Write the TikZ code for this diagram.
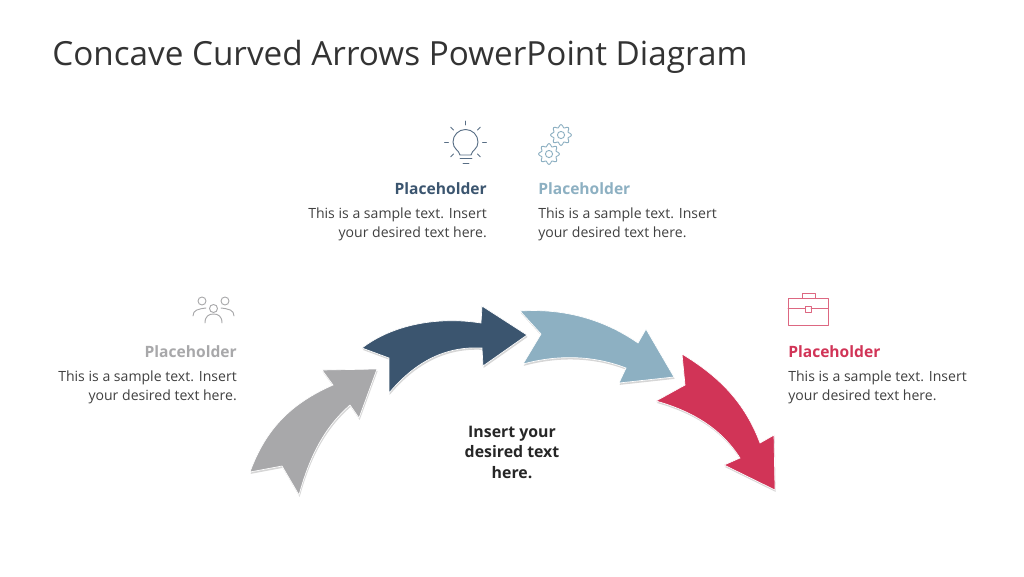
\documentclass[tikz,border=0pt]{standalone}
\usepackage{fontspec}
\setmainfont{Open Sans}
\usepackage{xcolor}
\usepackage{tikz}
\usetikzlibrary{shadows}
\definecolor{stonegray}{HTML}{A8A8AA}
\definecolor{navyblue}{HTML}{3B556F}
\definecolor{skyblue}{HTML}{8DB0C2}
\definecolor{rosered}{HTML}{D13457}
\definecolor{bodygray}{HTML}{404040}
\tikzset{
  curvedarrow/.style={draw=white,line width=0.5pt,line join=miter,fill=#1,
    drop shadow={shadow xshift=0.5pt,shadow yshift=-1.4pt,opacity=0.16,fill=black}},
  headline/.style={font=\fontsize{11.7pt}{14pt}\selectfont\bfseries,inner sep=0pt},
  bodytext/.style={font=\fontsize{10.55pt}{14.25pt}\selectfont,text=bodygray,inner sep=0pt},
  iconline/.style={line width=0.7pt,line cap=round,line join=round}
}
\newcommand{\gearicon}[2]{
  \draw[iconline,draw=skyblue] plot[smooth,domain=0:360,samples=73] ({#1+(9+1.4*cos(8*\x))*cos(\x)},{#2+(9+1.4*cos(8*\x))*sin(\x)}) -- cycle;
  \draw[iconline,draw=skyblue] (#1,#2) circle (3.6);
}
\begin{document}
\begin{tikzpicture}[x=0.75pt,y=0.75pt,yscale=-1,xscale=1]
  \useasboundingbox (0,0) rectangle (1024,576);

  %Title
  \node[anchor=west,inner sep=0pt,text=black!80,font=\fontsize{24.95pt}{30pt}\selectfont] (title) at (52,57) {Concave Curved Arrows PowerPoint Diagram};

  %Gray arrow
  \path[curvedarrow=stonegray] (250,472) .. controls (266,428) and (292,403) .. (333,385) -- (322,370) -- (377,369) -- (359,418) -- (350,405) .. controls (325,427) and (310,455) .. (299,495) -- (282,466) -- cycle;
  %Navy arrow
  \path[curvedarrow=navyblue] (362,348) .. controls (392,325) and (437,316) .. (481,323) -- (482,306) -- (527,335) -- (483,366) -- (482,348) .. controls (445,346) and (415,362) .. (389,393) -- (389,358) -- cycle;
  %Light blue arrow
  \path[curvedarrow=skyblue] (520,311) .. controls (565,308) and (605,320) .. (638,343) -- (646,329) -- (674,377) -- (619,383) -- (626,368) .. controls (595,356) and (560,354) .. (523,364) -- (541,334) -- cycle;
  %Red arrow
  \path[curvedarrow=rosered] (682,354) .. controls (720,377) and (745,403) .. (760,443) -- (774,435) -- (775,490) -- (724,465) -- (740,458) .. controls (722,430) and (695,412) .. (656,401) -- (685,385) -- cycle;

  %Left block
  \node[headline,anchor=east,text=stonegray] (headgray) at (237,352) {Placeholder};
  \node[bodytext,anchor=north east,align=right] (textgray) at (237,371) {This is a sample text. Insert\\your desired text here.};
  %Top left block
  \node[headline,anchor=east,text=navyblue] (headnavy) at (487,189) {Placeholder};
  \node[bodytext,anchor=north east,align=right] (textnavy) at (487,208) {This is a sample text. Insert\\your desired text here.};
  %Top right block
  \node[headline,anchor=west,text=skyblue] (headsky) at (538,189) {Placeholder};
  \node[bodytext,anchor=north west,align=left] (textsky) at (538,208) {This is a sample text. Insert\\your desired text here.};
  %Right block
  \node[headline,anchor=west,text=rosered] (headrose) at (788,352) {Placeholder};
  \node[bodytext,anchor=north west,align=left] (textrose) at (788,371) {This is a sample text. Insert\\your desired text here.};
  %Center text
  \node[inner sep=0pt,align=center,text=black!85,font=\fontsize{11.9pt}{15.4pt}\selectfont\bfseries] (centertext) at (512,452) {Insert your\\desired text\\here.};

  %Bulb
  \draw[iconline,draw=navyblue!85] (460,155) .. controls (459,150) and (453,149) .. (453,142) arc (180:360:12.5) .. controls (478,149) and (472,150) .. (471,155) -- cycle;
  \draw[iconline,draw=navyblue!85] (460,158.5) -- (472,158.5) (463,163.5) -- (469,163.5);
  \foreach \a in {0,45,135,180,225,270,315}
    \draw[iconline,draw=navyblue!85] ({465.5+17*cos(\a)},{142+17*sin(\a)}) -- ({465.5+21*cos(\a)},{142+21*sin(\a)});

  %Gears
  \gearicon{561}{135}
  \gearicon{549}{154}

  %People
  \draw[iconline,draw=stonegray] (202,301) circle (4) (225,301) circle (4) (213.5,308.5) circle (4);
  \draw[iconline,draw=stonegray] (193,316) .. controls (193,310) and (198,309) .. (206,308);
  \draw[iconline,draw=stonegray] (221,308) .. controls (229,309) and (234,310) .. (234,316);
  \draw[iconline,draw=stonegray] (205,323) .. controls (205,316) and (209,314) .. (213.5,314) .. controls (218,314) and (222,316) .. (222,323);

  %Briefcase
  \draw[iconline,draw=rosered!75] (788,298) rectangle (828,325);
  \draw[iconline,draw=rosered!75] (788,308.5) -- (805,308.5) (811,308.5) -- (828,308.5);
  \draw[iconline,draw=rosered!75] (805,306) rectangle (811,312);
  \draw[iconline,draw=rosered!75] (802,298) -- (802,293) -- (815,293) -- (815,298);
\end{tikzpicture}
\end{document}
